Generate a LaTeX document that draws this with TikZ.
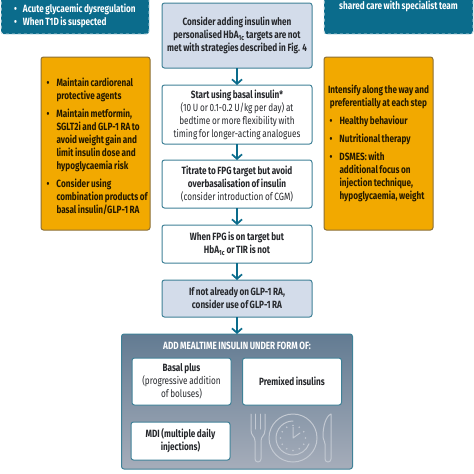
\documentclass[tikz,border=0pt]{standalone}
\usepackage{fontspec}
\setmainfont[FakeStretch=0.78,WordSpace=0.8]{Fira Sans}
\usetikzlibrary{arrows.meta,positioning}
\definecolor{tealdark}{HTML}{0B6C8C}
\definecolor{tealedge}{HTML}{3F8197}
\definecolor{amberbox}{HTML}{F2A900}
\definecolor{amberedge}{HTML}{8C6F35}
\definecolor{inktext}{HTML}{26282C}
\definecolor{paleblue}{HTML}{D3DCEA}
\definecolor{slatetop}{HTML}{627B92}
\definecolor{slatebot}{HTML}{A6ADBA}
\definecolor{iconline}{HTML}{C3C9D2}
\newcommand{\bitem}[1][10pt]{\par\vspace{5pt}\hangindent=#1\hangafter=1\noindent\hbox to #1{\textbullet\hfil}}

\begin{document}
\begin{tikzpicture}[
  x=1pt,y=1pt,
  font=\fontsize{10.5}{13}\selectfont,
  >=Stealth,
  edge/.style={-{Straight Barb[length=4.5pt,width=10pt]},line width=1.7pt,draw=tealdark},
  flowbox/.style={draw=tealedge,fill=white,line width=1pt,rounded corners=2.5pt,outer sep=0pt,
               align=flush center,text=inktext,minimum width=150pt,text width=146pt,inner xsep=2pt,inner ysep=0pt},
  bluebox/.style={flowbox,fill=paleblue},
  innerbox/.style={flowbox,minimum width=99pt,text width=95pt},
  sidebox/.style={draw=amberedge,fill=amberbox,line width=1pt,rounded corners=2.5pt,outer sep=0pt,
               text=black!85!amberbox,font=\fontsize{10.5}{13}\selectfont\bfseries,
               minimum width=109pt,minimum height=173pt,inner xsep=0pt,inner ysep=0pt},
  alertbox/.style={draw=white!80!tealdark,dashed,fill=tealdark,line width=1pt,rounded corners=2.5pt,outer sep=0pt,
               text=white,font=\fontsize{10.5}{13}\selectfont\bfseries,inner xsep=0pt,inner ysep=0pt},
  icon/.style={draw=iconline,line width=1pt,line cap=round,line join=round}
]
\clip (0,0) rectangle (474,-474);

\node[alertbox,minimum width=148pt,minimum height=44pt] (dysreg) at (75,-12)
  {\begin{minipage}{122pt}\vspace*{7pt}\hangindent=9pt\hangafter=1\noindent\hbox to 9pt{\textbullet\hfil}Acute glycaemic dysregulation\par
   \hangindent=9pt\hangafter=1\noindent\hbox to 9pt{\textbullet\hfil}When T1D is suspected\end{minipage}};
\node[alertbox,minimum width=149pt,minimum height=56pt] (shared) at (398.5,-6)
  {shared care with specialist team};

\node[bluebox,minimum height=65pt] (adding) at (237,-35.5)
  {\bfseries Consider adding insulin when\\
   \bfseries personalised HbA\textsubscript{1c} targets are not\\
   \bfseries met with strategies described in Fig. 4};
\node[flowbox,minimum height=59pt,below=17pt of adding] (basal)
  {\textbf{Start using basal insulin*}\\
   (10 U or 0.1-0.2 U/kg per day) at\\
   bedtime or more flexibility with\\
   timing for longer-acting analogues};
\node[flowbox,minimum height=48pt,below=16pt of basal] (titrate)
  {\textbf{Titrate to FPG target but avoid}\\
   \textbf{overbasalisation of insulin}\\
   (consider introduction of CGM)};
\node[flowbox,minimum height=38pt,below=17pt of titrate] (fpgtarget)
  {\bfseries When FPG is on target but\\
   \bfseries HbA\textsubscript{1c} or TIR is not};
\node[bluebox,minimum height=37pt,below=17pt of fpgtarget] (glpone)
  {\bfseries If not already on GLP-1 RA,\\
   \bfseries consider use of GLP-1 RA};
\node[draw=tealedge,line width=1pt,rounded corners=2.5pt,outer sep=0pt,top color=slatetop,bottom color=slatebot,
      minimum width=231pt,minimum height=135pt,below=17pt of glpone] (mealtime) {};
\node[text=white,font=\fontsize{10.5}{13}\selectfont\bfseries,below=5pt of mealtime.north] (mealtitle)
  {ADD MEALTIME INSULIN UNDER FORM OF:};

\node[innerbox,minimum height=47pt] (basalplus) at (181.5,-381.5)
  {\textbf{Basal plus}\\(progressive addition\\of boluses)};
\node[innerbox,minimum height=47pt] (premixed) at (292,-381.5)
  {\textbf{Premixed insulins}};
\node[innerbox,minimum height=38pt] (mdi) at (180.5,-441)
  {\bfseries MDI (multiple daily\\\bfseries injections)};

\node[sidebox] (maintain) at (95.5,-143.5)
  {\begin{minipage}{98pt}\raggedright
   \bitem Maintain cardiorenal\newline protective agents
   \bitem Maintain metformin,\newline \mbox{SGLT2i and GLP-1 RA to}\newline avoid weight gain and\newline limit insulin dose and\newline hypoglycaemia risk
   \bitem Consider using\newline \mbox{combination products of}\newline \mbox{basal insulin/GLP-1 RA}\end{minipage}};
\node[sidebox] (intensify) at (378.5,-143.5)
  {\begin{minipage}{98pt}\raggedright
   \noindent\makebox[\linewidth][c]{Intensify along the way and}\par
   \noindent\makebox[\linewidth][c]{preferentially at each step}
   \bitem Healthy behaviour
   \bitem Nutritional therapy
   \bitem DSMES: with\newline additional focus on\newline injection technique,\newline hypoglycaemia, weight\end{minipage}};

\draw[edge] (adding) -- (basal);
\draw[edge] (basal) -- (titrate);
\draw[edge] (titrate) -- (fpgtarget);
\draw[edge] (fpgtarget) -- (glpone);
\draw[edge] (glpone) -- (mealtime);

% fork
\draw[icon] (251,-414) -- (251,-430) .. controls (251,-436) and (255,-436) .. (255,-441)
  -- (255,-459) .. controls (255,-463) and (261,-463) .. (261,-459) -- (261,-441)
  .. controls (261,-436) and (265,-436) .. (265,-430) -- (265,-414);
\draw[icon] (255.5,-414) -- (255.5,-429);
\draw[icon] (260.5,-414) -- (260.5,-429);
% plate and clock
\draw[icon] (293,-438) circle (24);
\draw[icon] (293,-421) arc (90:340:17);
\foreach \a in {0,30,...,330}
  \fill[iconline] (293,-438) ++(\a:12.5) circle (0.9);
\draw[icon] (293,-427) -- (293,-438) -- (300,-433);
% knife
\draw[icon] (331,-414) .. controls (326,-416) and (323,-426) .. (323,-436)
  .. controls (323,-440) and (325,-441) .. (325,-444) -- (325,-459)
  .. controls (325,-463) and (331,-463) .. (331,-459) -- cycle;
\end{tikzpicture}
\end{document}
